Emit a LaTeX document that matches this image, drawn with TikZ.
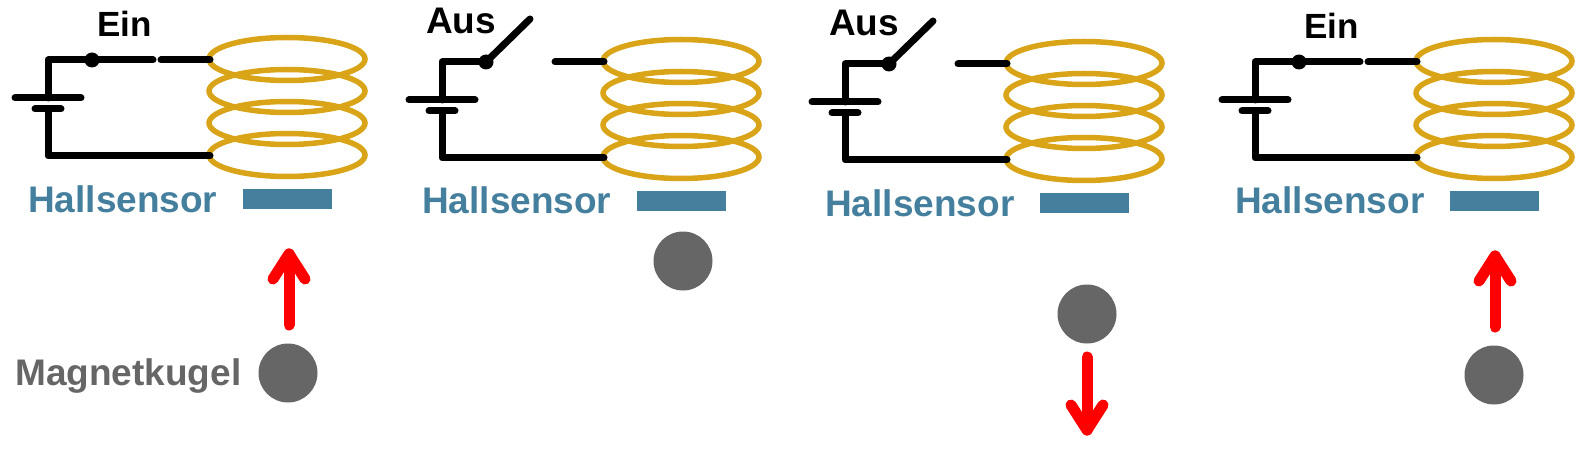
\documentclass[tikz,border=0pt]{standalone}
\usepackage{fontspec}
\setmainfont{Liberation Sans}
\definecolor{coilgold}{HTML}{D9A418}
\definecolor{hallblue}{HTML}{457F9E}
\definecolor{ballgray}{HTML}{666666}
\tikzset{
  wire/.style={line width=7pt,black,line cap=round,line join=round},
  coil/.style={line width=5.5pt,coilgold},
  label/.style={inner sep=0pt,anchor=base west,font=\bfseries\fontsize{#1}{#1}\selectfont},
  ball/.style={circle,fill=ballgray,minimum size=59pt,inner sep=0pt},
  motion/.style={line width=11pt,red,line cap=round,line join=round},
}

\begin{document}
\begin{tikzpicture}[x=1pt,y=-1pt]
\useasboundingbox (0,0) rectangle (1589,449);

\foreach \n/\dx/\dy/\closed in {1/0/0/1,2/394/2/0,3/797/4/0,4/1207/2/1} {
\begin{scope}[shift={(\dx,\dy)}]
  \coordinate (corner\n) at (48,60);
  \coordinate (hinge\n) at (92,60);
  \coordinate (contact\n) at (161,60);
  \coordinate (coiltop\n) at (210,60);
  \coordinate (coilbot\n) at (210,156);
  \coordinate (cell\n) at (48,98);
  \coordinate (short\n) at (48,109);
  \coordinate (low\n) at (48,156);

  \foreach \y in {59,91,123,155}
    \draw[coil] (287,\y) ellipse (78 and 21.5);

  \draw[wire] (cell\n) -- (corner\n) -- (hinge\n);
  \draw[wire] (short\n) -- (low\n) -- (coilbot\n);
  \draw[wire] (contact\n) -- (coiltop\n);
  \draw[wire] (15,98) -- (81,98);
  \draw[wire] (35,109) -- (61,109);
  \fill (hinge\n) circle (7.5);

  \ifnum\closed=1
    \draw[wire] (hinge\n) -- (153,60);
    \node[label=35] (state\n) at (97,37) {Ein};
  \else
    \draw[wire] (hinge\n) -- (136,17);
    \node[label=37] (state\n) at (32,32) {Aus};
  \fi

  \node[label=37,text=hallblue] (hall\n) at (28,212) {Hallsensor};
  \fill[hallblue] (243,189) rectangle (332,209);
\end{scope}
}

\node[ball] (ball1) at (288,373) {};
\node[ball] (ball2) at (683,261) {};
\node[ball] (ball3) at (1087,314) {};
\node[ball] (ball4) at (1494,375) {};
\node[label=37,text=ballgray] (magnet) at (15,385) {Magnetkugel};

% arrows: shaft, then the two barbs through the tip
\foreach \a/\x/\tail/\tip/\barb in {1/289/325/254/279,3/1087/357/430/405,4/1495/327/256/281} {
  \coordinate (tail\a) at (\x,\tail);
  \coordinate (tip\a) at (\x,\tip);
  \coordinate (barbl\a) at (\x-16,\barb);
  \coordinate (barbr\a) at (\x+16,\barb);
  \draw[motion] (tail\a) -- (tip\a);
  \draw[motion] (barbl\a) -- (tip\a) -- (barbr\a);
}
\end{tikzpicture}
\end{document}
